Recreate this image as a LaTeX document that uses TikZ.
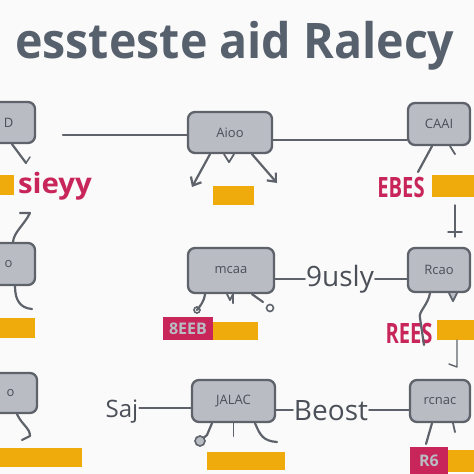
\documentclass[tikz,border=0pt]{standalone}
\usepackage{fontspec}
\setmainfont{Open Sans}
\usetikzlibrary{arrows.meta,calc}
\definecolor{bgc}{HTML}{FAFAFA}
\definecolor{titlec}{HTML}{57606D}
\definecolor{boxfill}{HTML}{B9BCC3}
\definecolor{boxline}{HTML}{5E626A}
\definecolor{orangec}{HTML}{EFAA0C}
\definecolor{crimc}{HTML}{C8255A}
\definecolor{labc}{HTML}{4A4F58}
\tikzset{
  box/.style={draw=boxline, fill=boxfill, line width=2.3pt, rounded corners=7pt, inner sep=0pt, text=labc, font=\fontsize{13}{13}\selectfont},
  wire/.style={draw=boxline, line width=2.2pt, line cap=round, line join=round},
  bar/.style={fill=orangec},
  pinktxt/.style={text=crimc, font=\fontsize{28}{28}\selectfont\bfseries, inner sep=0pt},
  pinkblk/.style={fill=crimc, text=boxfill, font=\fontsize{16}{16}\selectfont\bfseries, inner sep=0pt},
  graytxt/.style={text=labc, font=\fontsize{28}{28}\selectfont, inner sep=1pt, fill=bgc},
}
\begin{document}
\begin{tikzpicture}[x=1pt,y=-1pt]
\fill[bgc] (0,0) rectangle (474,474);
\useasboundingbox (0,0) rectangle (474,474);
\clip (0,0) rectangle (474,474);

% title
\node[anchor=base west, inner sep=0pt, text=titlec, font=\fontsize{49}{49}\selectfont\bfseries] (title) at (15,58) {\scalebox{0.95}[1]{essteste aid Ralecy}};

% orange bars
\fill[bar] (0,175) rectangle (14,195);
\fill[bar] (213,186) rectangle (254,205);
\fill[bar] (432,175) rectangle (474,197);
\fill[bar] (0,318) rectangle (35,338);
\fill[bar] (213,322) rectangle (258,340);
\fill[bar] (437,320) rectangle (474,340);
\fill[bar] (0,448) rectangle (82,467);
\fill[bar] (207,452) rectangle (285,470);
\fill[bar] (447,450) rectangle (474,472);

% boxes
\node[box, minimum width=65, minimum height=41] (a1) at (2.5,122.5) {\hspace*{12pt}D};
\node[box, minimum width=84, minimum height=41] (b1) at (230,132.5) {Aioo};
\node[box, minimum width=62, minimum height=42] (c1) at (439,124) {CAAI};
\node[box, minimum width=65, minimum height=42] (a2) at (2.5,264) {\hspace*{12pt}o};
\node[box, minimum width=86, minimum height=45] (b2) at (231,270.5) {mcaa};
\node[box, minimum width=62, minimum height=44] (c2) at (439,270) {Rcao};
\node[box, minimum width=67, minimum height=40] (a3) at (3.5,393) {\hspace*{14pt}o};
\node[box, minimum width=83, minimum height=42] (b3) at (233.5,401) {JALAC};
\node[box, minimum width=60, minimum height=42] (c3) at (440,401) {rcnac};

% in-line texts
\node[graytxt] (usly) at (340,279) {9usly};
\node[graytxt] (beost) at (331,411) {Beost};
\node[text=labc, font=\fontsize{24}{24}\selectfont, inner sep=1pt] (saj) at (122,412) {Saj};

% horizontal connectors
\coordinate (r1start) at (63,135);
\draw[wire] (r1start) -- (b1.west |- r1start);
\draw[wire] ([yshift=-7.5pt]b1.east) -- (c1.west |- 0,140);
\draw[wire] (b2.east |- usly.west) -- (usly.west);
\draw[wire] (usly.east) -- (c2.west |- usly.east);
\draw[wire] (saj.east |- 0,408) -- (b3.west |- 0,408);
\draw[wire] (b3.east |- 0,410) -- (beost.west |- 0,410);
\draw[wire] (beost.east |- 0,410) -- (c3.west |- 0,410);

% pink labels
\node[pinktxt] (sieyy) at (55,186) {\scalebox{1.05}[1]{sieyy}};
\node[pinktxt] (ebes) at (401,187) {\scalebox{0.72}[1]{EBES}};
\node[pinktxt] (rees) at (409,333) {\scalebox{0.72}[1]{REES}};
\node[pinkblk, minimum width=50, minimum height=23] (blk2) at (188,328.5) {8EEB};
\node[pinkblk, minimum width=38, minimum height=27] (blk3) at (429,460.5) {R6};

% tails row 1
\coordinate (a1e) at (26,163);
\draw[wire] ([xshift=9.5pt]a1.south) -- (a1e);
\coordinate (a1t) at (30,157);
\draw[wire, line width=1.5pt] (a1e) -- (a1t);
\coordinate (lk1) at (20,213);
\coordinate (lk2) at (30,213);
\draw[wire] (lk1) -- (lk2) .. controls (24,225) and (14,232) .. ([xshift=10.5pt]a2.north);
\coordinate (b1l) at (192,187);
\draw[wire, -{Straight Barb[length=7pt,width=12pt]}] ([xshift=-20pt]b1.south) -- (b1l);
\coordinate (b1r) at (277,183);
\draw[wire, -{Straight Barb[length=7pt,width=12pt]}] ([xshift=22pt]b1.south) -- (b1r);
\draw[wire, line width=1.8pt] ([xshift=-6pt]b1.south) -- ++(5,8) -- ++(5,-8);
\coordinate (c1e) at (418,172);
\draw[wire] ([xshift=-7pt]c1.south) -- (c1e);
\draw[wire, line width=1.8pt] ([xshift=11pt]c1.south) -- ++(5,8);
\coordinate (v1a) at (455,205);
\coordinate (v1b) at (455,237);
\draw[wire, line width=1.4pt] (v1a) -- (v1b);
\draw[wire, line width=1.4pt] (448,232) -- (462,232);

% tails row 2
\coordinate (a2e) at (32,309);
\draw[wire] ([xshift=12.5pt]a2.south) .. controls (15,300) and (20,308) .. (a2e);
\coordinate (b2c1) at (197,310);
\draw[wire] ([xshift=-26pt]b2.south) .. controls (204,302) and (200,306) .. (b2c1);
\draw[boxline, line width=1.6pt] (b2c1) circle (3);
\draw[wire, line width=1.8pt] ([xshift=-4pt]b2.south) -- ++(3,6) -- ++(3,-6);
\draw[wire, line width=1.8pt] ([xshift=2pt]b2.south) -- ++(0,9);
\coordinate (b2c2) at (270,308);
\draw[wire] ([xshift=21pt]b2.south) -- (263,302);
\draw[boxline, line width=1.6pt] (b2c2) circle (3.5);
\coordinate (c2e) at (424,345);
\draw[wire] ([xshift=-9pt]c2.south) .. controls (428,305) and (418,312) .. (420,318) -- (c2e);
\draw[wire, line width=1.8pt, fill=boxfill] ([xshift=10pt]c2.south) -- ++(4,8) -- ++(4,-8);
\coordinate (v2a) at (457,340);
\coordinate (v2b) at (457,367);
\draw[wire, line width=1.4pt] (v2a) -- (v2b) -- (449,364);

% tails row 3
\coordinate (a3e) at (22,440);
\draw[wire] ([xshift=13.5pt]a3.south) .. controls (22,425) and (30,428) .. (30,436) -- (a3e);
\coordinate (b3c) at (200,441);
\draw[wire] ([xshift=-21.5pt]b3.south) -- (207,435) -- (b3c);
\filldraw[draw=boxline, fill=boxfill, line width=1.6pt] (b3c) circle (5);
\draw[wire, line width=1.8pt] ([xshift=0pt]b3.south) -- ++(0,13);
\coordinate (b3r) at (277,442);
\draw[wire] ([xshift=21.5pt]b3.south) .. controls (260,435) and (263,441) .. (b3r);
\coordinate (c3e) at (426,444);
\draw[wire] ([xshift=-8pt]c3.south) -- (c3e);
\draw[wire, line width=1.8pt] ([xshift=13pt]c3.south) -- ++(2,9);
\end{tikzpicture}
\end{document}
